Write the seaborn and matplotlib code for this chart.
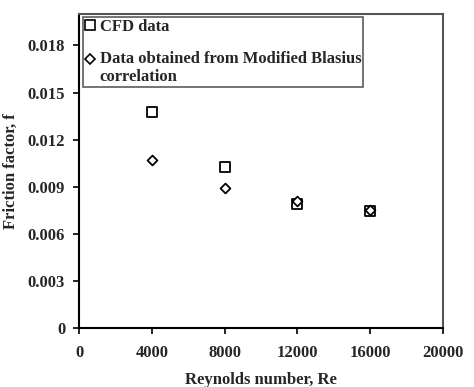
import pandas as pd
import matplotlib.pyplot as plt
import seaborn as sns
from matplotlib.lines import Line2D
from matplotlib.legend_handler import HandlerLine2D

reynolds = [4000, 8000, 12000, 16000]
cfd_f = [0.01373, 0.01025, 0.00788, 0.00746]
blasius_f = [0.01068, 0.00894, 0.00807, 0.00753]

cfd_label = "CFD data"
blasius_label = "Data obtained from Modified Blasius\ncorrelation"

cfd = pd.DataFrame({"Re": reynolds, "f": cfd_f})
blasius = pd.DataFrame({"Re": reynolds, "f": blasius_f})

sns.set_style("white")
plt.rcParams["font.family"] = ["Liberation Serif", "DejaVu Serif"]
plt.rcParams["font.weight"] = "bold"

fig = plt.figure(figsize=(4.74, 3.87), dpi=100)
ax = fig.add_axes([0.1667, 0.1525, 0.768, 0.8113])

sns.scatterplot(data=cfd, x="Re", y="f", marker="s", s=50,
                facecolor="white", edgecolor="black", linewidth=1.3, ax=ax)
sns.scatterplot(data=blasius, x="Re", y="f", marker="D", s=25,
                facecolor="white", edgecolor="black", linewidth=1.3, ax=ax)

ax.set_xlim(0, 20000)
ax.set_ylim(0, 0.02)
ax.set_xticks([0, 4000, 8000, 12000, 16000, 20000])
ax.set_xticklabels(["0", "4000", "8000", "12000", "16000", "20000"])
ax.set_yticks([0, 0.003, 0.006, 0.009, 0.012, 0.015, 0.018])
ax.set_yticklabels(["0", "0.003", "0.006", "0.009", "0.012", "0.015", "0.018"])
ax.tick_params(axis="both", direction="out", length=4, width=1.2, labelsize=12,
               color="black", left=True, bottom=True, pad=6)
ax.tick_params(axis="x", pad=8)
for lab in ax.get_xticklabels() + ax.get_yticklabels():
    lab.set_fontweight("bold")

ax.set_xlabel("Reynolds number, Re", fontsize=12, fontweight="bold", labelpad=8)
ax.set_ylabel("Friction factor, f", fontsize=12, fontweight="bold", labelpad=6)

for side in ["left", "bottom"]:
    ax.spines[side].set_color("black")
    ax.spines[side].set_linewidth(1.5)
for side in ["top", "right"]:
    ax.spines[side].set_color("#555555")
    ax.spines[side].set_linewidth(1.5)


class FirstLineHandler(HandlerLine2D):
    # put the marker next to the first line of a two-line label
    def create_artists(self, legend, orig_handle, xdescent, ydescent,
                       width, height, fontsize, trans):
        artists = super().create_artists(legend, orig_handle, xdescent, ydescent,
                                         width, height, fontsize, trans)
        for a in artists:
            a.set_ydata([y + 0.55 * fontsize for y in a.get_ydata()])
        return artists


h_cfd = Line2D([], [], marker="s", ls="", mfc="white", mec="black", mew=1.2, ms=7)
h_bl = Line2D([], [], marker="D", ls="", mfc="white", mec="black", mew=1.2, ms=5)
leg = ax.legend([h_cfd, h_bl], [cfd_label, blasius_label], loc="upper left",
                bbox_to_anchor=(0.01, 0.99), frameon=True, fancybox=False,
                edgecolor="#333333", handlelength=0.6, handletextpad=0.3,
                borderpad=0.12, labelspacing=0.95, borderaxespad=0,
                handler_map={h_bl: FirstLineHandler()},
                prop={"size": 12, "weight": "bold"})
leg.get_frame().set_linewidth(1.2)

fig.savefig("out.png", dpi=100)
